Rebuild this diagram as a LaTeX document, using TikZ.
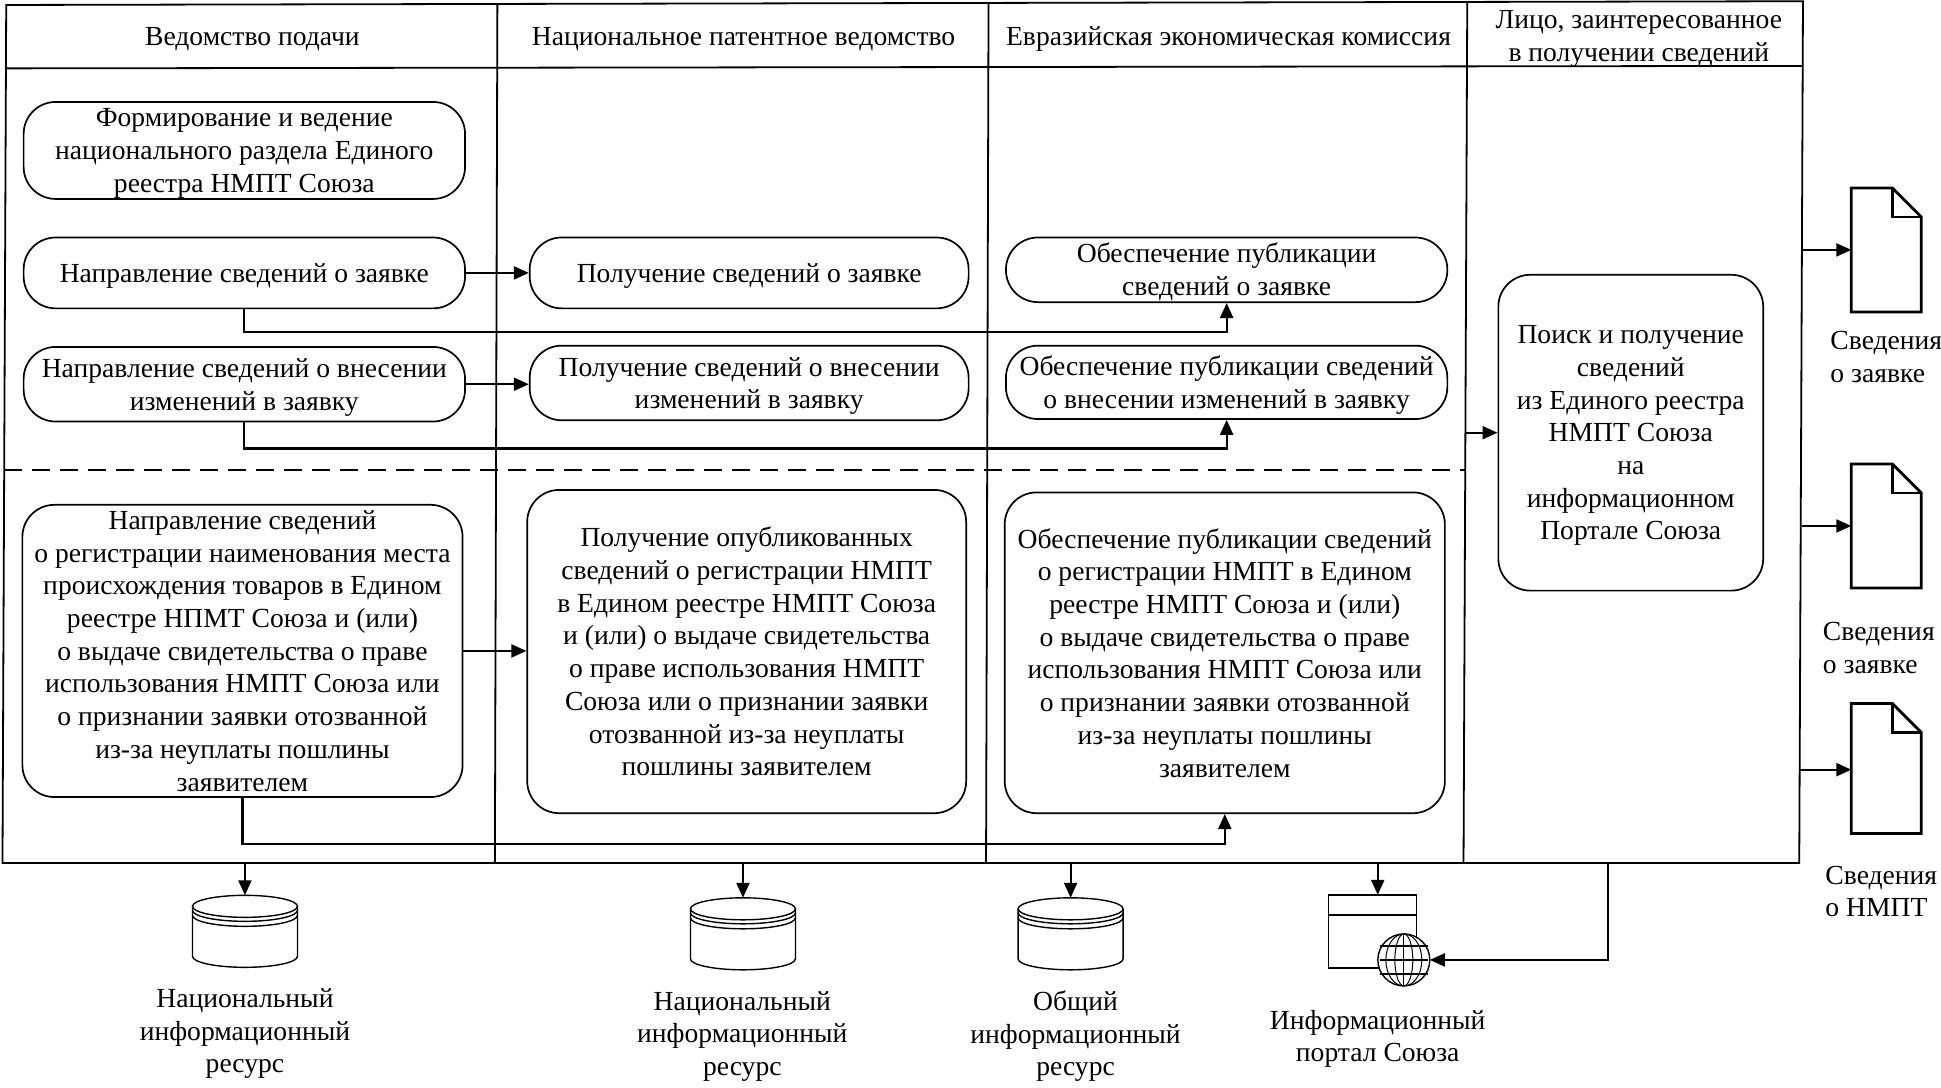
\documentclass[tikz,border=0pt]{standalone}
\usepackage{fontspec}
\setmainfont{Liberation Serif}
\usetikzlibrary{positioning,arrows.meta,calc}
\tikzset{
    sheet/.style={x=1.2434pt,y=-1.2434pt,line width=1.4pt,font=\fontsize{27.6}{32.7}\selectfont},
    frameline/.style={line width=1.8pt},
    txt/.style={align=center,inner sep=0pt,execute at begin node={\rule{0pt}{22pt}}},
    proc/.style={draw,rounded corners=#1,align=center,inner sep=0pt,line width=1.7pt,execute at begin node={\rule{0pt}{25.5pt}}},
    proc/.default=32pt,
    flow/.style={line width=2.2pt,-{Triangle[length=15pt,width=13pt]}},
    iconbox/.style={inner sep=0pt,outer sep=0pt},
    low/.style={text depth=-3pt},
}
\newcommand{\procat}[6][32pt]{% x1, y1, x2, y2, options
    \node[proc=#1,minimum width=1.2434pt*(#4-#2),minimum height=1.2434pt*(#5-#3),#6] at ({(#2+#4)/2},{(#3+#5)/2})}
\begin{document}
\begin{tikzpicture}[sheet]
                \useasboundingbox (0,0) rectangle (1561,874.2);
                % frame
                \coordinate (tl) at (5,4);
                \coordinate (tr) at (1450,1);
                \coordinate (br) at (1447,694);
                \coordinate (bl) at (2,694);
                \draw[frameline] (tl) -- (tr) -- (br) -- (bl) -- cycle;
                \draw[frameline] (5,55) -- (1450,53);
                \draw[frameline] (400,3) -- (398,694);
                \draw[frameline] (795,3) -- (793,694);
                \draw[frameline] (1180,2) -- (1177,694);
                \draw[frameline,dashed,dash pattern=on 18pt off 10pt] (3,378) -- (1178,378);
                % headers
                \node[txt] (h1) at (203,30) {Ведомство подачи};
                \node[txt] (h2) at (598,30) {Национальное патентное ведомство};
                \node[txt] (h3) at (988,30) {Евразийская экономическая комиссия};
                \node[txt,low] (h4) at (1318,29) {Лицо, заинтересованное\\в получении сведений};
                % first column
                \procat{19}{82}{374}{160}{low} (b11) {Формирование и ведение\\национального раздела Единого\\реестра НМПТ Союза};
                \procat{19}{191}{374}{248}{} (b12) {Направление сведений о заявке};
                \procat{19}{279}{374}{339}{low} (b13) {Направление сведений о внесении\\изменений в заявку};
                \procat{18}{406}{372}{641}{} (b14) {Направление сведений\\о регистрации наименования места\\происхождения товаров в Едином\\реестре НПМТ Союза и (или)\\о выдаче свидетельства о праве\\использования НМПТ Союза или\\о признании заявки отозванной\\из-за неуплаты пошлины\\заявителем};
                % second column
                \procat{426}{191}{779}{248}{} (b21) {Получение сведений о заявке};
                \procat{426}{278}{779}{338}{low} (b22) {Получение сведений о внесении\\изменений в заявку};
                \procat{424}{394}{777}{654}{} (b23) {Получение опубликованных\\сведений о регистрации НМПТ\\в Едином реестре НМПТ Союза\\и (или) о выдаче свидетельства\\о праве использования НМПТ\\Союза или о признании заявки\\отозванной из-за неуплаты\\пошлины заявителем};
                % third column
                \procat{809}{191}{1164}{243}{text depth=2pt} (b31) {Обеспечение публикации\\сведений о заявке};
                \procat{809}{278}{1164}{337}{low} (b32) {Обеспечение публикации сведений\\о внесении изменений в заявку};
                \procat{808}{396}{1162}{654}{} (b33) {Обеспечение публикации сведений\\о регистрации НМПТ в Едином\\реестре НМПТ Союза и (или)\\о выдаче свидетельства о праве\\использования НМПТ Союза или\\о признании заявки отозванной\\из-за неуплаты пошлины\\заявителем};
                % fourth column
                \procat{1205}{221}{1418}{475}{low} (b41) {Поиск и получение\\сведений\\из Единого реестра\\НМПТ Союза\\на\\информационном\\Портале Союза};
                % documents
                \node[iconbox,minimum width=70pt,minimum height=124pt] (doc1) at (1517,201) {};
                \node[iconbox,minimum width=70pt,minimum height=124pt] (doc2) at (1517,423) {};
                \node[iconbox,minimum width=70pt,minimum height=130pt] (doc3) at (1517,618) {};
                \foreach \d in {doc1,doc2,doc3}{
                    \draw[line width=2.8pt] (\d.south west) |- ($(\d.north east)+(-29pt,0)$) -- ($(\d.north east)+(0,-29pt)$) -- (\d.south east) -- cycle;
                    \draw[line width=2.4pt] ($(\d.north east)+(-29pt,0)$) |- ($(\d.north east)+(0,-29pt)$);
                }
                \node[txt,align=left] (t1) at (1517,287) {Сведения\\о заявке};
                \node[txt,align=left] (t2) at (1511,521) {Сведения\\о заявке};
                \node[txt,align=left] (t3) at (1513,717) {Сведения\\о НМПТ};
                % resources
                \node[iconbox,minimum width=105pt,minimum height=72pt] (db1) at (197,749) {};
                \node[iconbox,minimum width=105pt,minimum height=72pt] (db2) at (597.5,751) {};
                \node[iconbox,minimum width=105pt,minimum height=72pt] (db3) at (861,751) {};
                \foreach \d in {db1,db2,db3}{
                    \draw ($(\d.north west)+(0,-11pt)$) -- ($(\d.south west)+(0,11pt)$) arc[start angle=180,end angle=360,x radius=52.5pt,y radius=11pt] -- ($(\d.north east)+(0,-11pt)$);
                    \draw ($(\d.north)+(0,-11pt)$) ellipse[x radius=52.5pt,y radius=11pt];
                    \draw ($(\d.north west)+(0,-15pt)$) arc[start angle=180,end angle=360,x radius=52.5pt,y radius=11pt];
                    \draw ($(\d.north west)+(0,-20pt)$) arc[start angle=180,end angle=360,x radius=52.5pt,y radius=11pt];
                }
                \node[txt,low] (t4) at (197,829) {Национальный\\информационный\\ресурс};
                \node[txt,low] (t5) at (597,831) {Национальный\\информационный\\ресурс};
                \node[txt,low] (t6) at (865,831) {Общий\\информационный\\ресурс};
                % portal
                \node[iconbox,draw,minimum width=88pt,minimum height=73pt] (win) at (1104,749) {};
                \draw[line width=2.6pt] (win.north west) -- (win.north east);
                \draw[line width=2pt] ($(win.north west)+(0,-20pt)$) -- ($(win.north east)+(0,-20pt)$);
                \node[iconbox,draw,fill=white,circle,minimum size=52pt] (globe) at (1129,772) {};
                \foreach \r in {9pt,18pt}{
                    \draw[line width=1pt] (globe.center) ellipse[x radius=\r,y radius=26pt];
                }
                \draw[line width=1pt] (globe.north) -- (globe.south);
                \foreach \s in {-14pt,0pt,14pt}{
                    \draw[line width=1.2pt] ($(globe.center)+(-24pt,\s)$) -- ($(globe.center)+(24pt,\s)$);
                }
                \node[txt,low] (t7) at (1108,833) {Информационный\\портал Союза};
                % connectors
                \draw[flow] (b12) -- (b21);
                \draw[flow] (b13.east) -- (b13.east -| b22.west);
                \draw[flow] (b14.east) -- (b14.east -| b23.west);
                \draw[flow] (b12.south) -- ++(0,18) -| (b31.south);
                \draw[flow] (b13.south) -- ++(0,21) -| (b32.south);
                \draw[flow] (b14.south) -- ++(0,37) -| (b33.south);
                \coordinate (f41) at (1179,348);
                \draw[flow] (f41) -- (b41.west |- f41);
                \coordinate (f1) at (1449,201);
                \coordinate (f2) at (1449,423);
                \coordinate (f3) at (1447,619);
                \draw[flow] (f1) -- (doc1.west |- f1);
                \draw[flow] (f2) -- (doc2.west |- f2);
                \draw[flow] (f3) -- (doc3.west |- f3);
                \coordinate (r1) at (197,694);
                \coordinate (r2) at (597.5,694);
                \coordinate (r3) at (861,694);
                \coordinate (r4) at (1108,694);
                \coordinate (r5) at (1293,694);
                \draw[flow] (r1) -- (db1.north);
                \draw[flow] (r2) -- (db2.north);
                \draw[flow] (r3) -- (db3.north);
                \draw[flow] (r4) -- (r4 |- win.north);
                \draw[flow] (r5) |- (globe.east);
\end{tikzpicture}
\end{document}
